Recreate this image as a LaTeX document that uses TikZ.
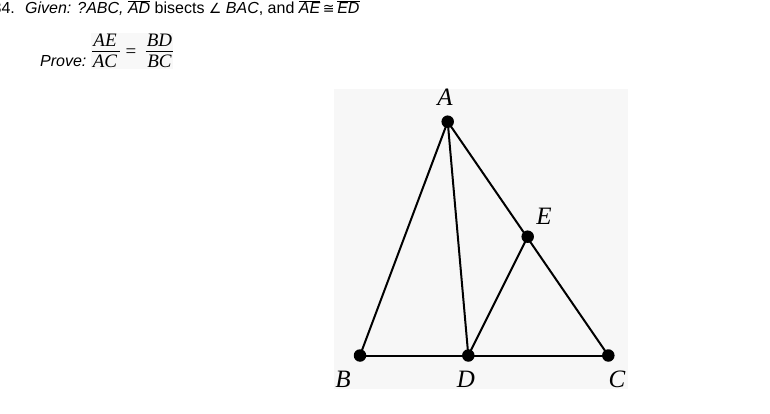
\documentclass[tikz,border=0pt]{standalone}
\usepackage{fontspec}
\setmainfont{Liberation Sans}
\newfontfamily\serifit{Liberation Serif}[ItalicFont={* Italic}]
\newfontfamily\symfont{DejaVu Sans}
\newcommand\ovl[1]{$\overline{\hbox{#1}}$}
\definecolor{bggray}{HTML}{F7F7F7}
\definecolor{fracgray}{HTML}{F8F8F8}
\tikzset{
  dot/.style={circle,fill=black,inner sep=0pt,minimum size=12.5pt},
  seg/.style={line width=2pt},
  vlabel/.style={inner sep=0pt,font=\fontsize{25}{27}\selectfont\serifit\itshape},
  headtext/.style={inner sep=0pt,anchor=base west,font=\fontsize{16}{18}\selectfont},
  fracletters/.style={inner sep=0pt,anchor=base,font=\fontsize{19}{21}\selectfont\serifit\itshape},
}
\begin{document}
\begin{tikzpicture}[x=1pt,y=-1pt]
\useasboundingbox (0,0) rectangle (770,414);
% header
\node[headtext] (num) at (-7.5,13.3) {34.};
\node[headtext] (given) at (25,13.3) {\itshape Given: ?ABC, \ovl{AD}\upshape{} bisects {\symfont\fontsize{14}{16}\selectfont∠} \itshape BAC\upshape, and \itshape\ovl{AE}\,{\symfont\fontsize{14}{16}\selectfont≅}\,\ovl{ED}};
\node[headtext] (prove) at (40,67) {\itshape Prove:};
\fill[fracgray] (91,33) rectangle (173,69);
\node[fracletters] (ae) at (105,47) {AE};
\node[fracletters] (ac) at (105,68) {AC};
\draw[line width=1pt] (ae.south west) ++(-1,4) coordinate (barL1) -- ++(28,0) coordinate (barR1);
\node[fracletters] (eq) at (131,58) {\upshape=};
\node[fracletters] (bd) at (159.5,47) {BD};
\node[fracletters] (bc) at (159.5,68) {BC};
\draw[line width=1pt] (bd.south west) ++(-1,4) coordinate (barL2) -- ++(27,0) coordinate (barR2);
% figure
\fill[bggray] (334,89) rectangle (628,389);
\node[dot] (A) at (447.7,121.7) {};
\node[dot] (B) at (360,355.5) {};
\node[dot] (D) at (468.3,355.5) {};
\node[dot] (C) at (608.3,355.5) {};
\node[dot] (E) at (527.7,236.7) {};
\draw[seg] (A.center) -- (B.center);
\draw[seg] (A.center) -- (D.center);
\draw[seg] (A.center) -- (C.center);
\draw[seg] (E.center) -- (D.center);
\draw[seg] (B.center) -- (C.center);
\node[vlabel] (lA) at (445,97) {A};
\node[vlabel] (lE) at (544,216) {E};
\node[vlabel] (lB) at (343,379) {B};
\node[vlabel] (lD) at (466,379) {D};
\node[vlabel] (lC) at (617,379) {C};
\end{tikzpicture}
\end{document}
